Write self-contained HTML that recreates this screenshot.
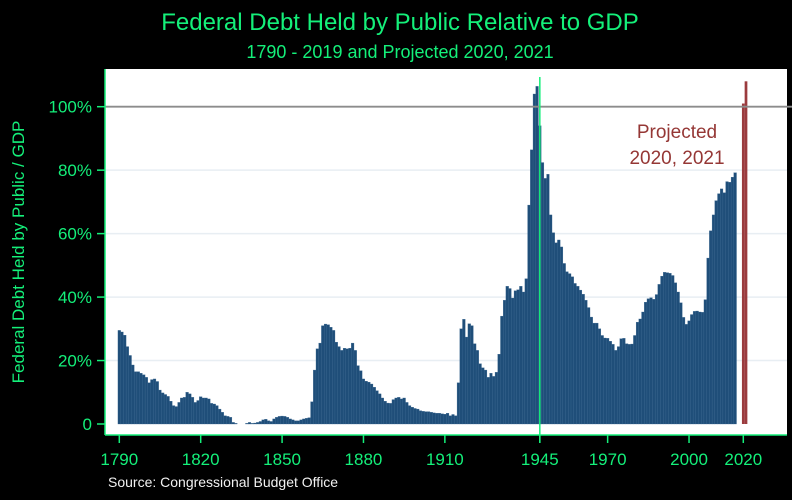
<!DOCTYPE html>
<html><head><meta charset="utf-8"><style>
body{margin:0;background:#000;width:792px;height:495px;overflow:hidden;font-family:"Liberation Sans",sans-serif}
</style></head><body>
<svg width="792" height="495" xmlns="http://www.w3.org/2000/svg">
<rect x="0" y="0" width="792" height="495" fill="#000"/>
<text x="400" y="30" fill="#14f07a" font-size="24" text-anchor="middle">Federal Debt Held by Public Relative to GDP</text>
<text x="400" y="58" fill="#14f07a" font-size="18" text-anchor="middle">1790 - 2019 and Projected 2020, 2021</text>
<rect x="105" y="69" width="682" height="366" fill="#fff"/>
<g id="grid"></g><g id="bars"></g><g id="axes"></g>
<text x="677" y="138" fill="#953735" font-size="19" text-anchor="middle">Projected</text>
<text x="677" y="164" fill="#953735" font-size="19" text-anchor="middle">2020, 2021</text>
<text transform="translate(24,252) rotate(-90)" fill="#14f07a" font-size="17" text-anchor="middle">Federal Debt Held by Public / GDP</text>
<text x="108" y="487" fill="#f2f2f2" font-size="14">Source: Congressional Budget Office</text>
</svg>
<script>
const startYear = 1790;
const debtPct = [
29.5,29,28,24.4,21.6,18.6,16.5,16.5,16,15.5,14.7,13,14,14.2,13.4,10.7,9.8,9.3,8.7,7.2,
5.8,5.5,6.8,8.2,8.4,10,9.5,8.4,6.8,7.4,8.6,8.2,8.2,7.9,6.5,6.3,5.8,4.7,3.7,2.6,
2.4,2.1,0.5,0.2,0,0,0,0.2,0.5,0.2,0.3,0.5,0.8,1.3,1.5,1,0.8,1.6,2.1,2.4,
2.5,2.4,2.1,1.6,1.3,1,1,1.3,1.6,1.8,2,7,17,23.7,25.5,31,31.5,31.3,30.5,29.5,
25.8,24.4,23.2,23.9,23.7,23.9,25.5,23.2,18.4,16.8,14.2,13.5,13.2,12.6,11.6,10.5,9.5,8.2,7.2,6.6,
6.5,7.7,8.2,8.4,7.9,8.2,6.8,5.8,5.3,4.9,4.7,4.2,4,3.9,3.9,3.7,3.5,3.4,3.4,3.2,
3.1,3.4,2.6,3,2.6,13,30,33,27.4,31.6,31,25.3,23.2,19,17.7,17,14.7,16,15,16.3,
22,34,39,43.4,42.7,39.7,42,42.3,43.4,41.6,45.8,69,86.4,104,106.4,94,82.4,77.4,78.7,65.9,
60.3,57.1,58,55.8,50.6,48,47.4,46.4,44.3,43.4,42.2,40.9,39,36.7,33.7,31.8,31.8,30,27.9,27.1,
27,26.1,25.1,23.2,24.4,26.9,27,25.3,25.1,25.2,27.9,32.1,33.1,35.3,38.4,39.5,39.8,39.3,40.8,44,
46.6,47.8,47.7,47.5,46.8,44.5,41.6,38.2,33.6,31.4,32.5,34.5,35.5,35.6,35.3,35.2,39.2,52.3,60.9,65.9,
70.4,72.6,74.1,72.9,76.4,76.2,77.8,79.2];
const projYears = [2020, 2021];
const projPct = [101, 108];
const yTicks = [0,20,40,60,80,100];
const yTickLabels = ["0","20%","40%","60%","80%","100%"];
const xTicks = [1790,1820,1850,1880,1910,1945,1970,2000,2020];
const refYear = 1945;

const NS="http://www.w3.org/2000/svg";
const xs = yr => 119.3 + (yr-1790)*2.713;
const ys = v => 424 - v*3.173;
const bw = 2.713;
function mk(tag, attrs, parent){const e=document.createElementNS(NS,tag);for(const k in attrs)e.setAttribute(k,attrs[k]);parent.appendChild(e);return e;}
const grid=document.getElementById('grid'), bars=document.getElementById('bars'), axes=document.getElementById('axes');
yTicks.forEach((t,i)=>{
  if(t>0&&t<100){const l=mk('line',{x1:105,x2:787,y1:ys(t),y2:ys(t),stroke:'#e8eef3','stroke-width':1.5},grid);
    
    }
  const tk=mk('line',{x1:97,x2:105,y1:ys(t),y2:ys(t),stroke:'#14f07a','stroke-width':1.5},axes);
  
  
  const tx=mk('text',{x:92,y:ys(t)+6,fill:'#14f07a','font-size':17,'text-anchor':'end'},axes);
  tx.textContent=yTickLabels[i];
  
  
});
debtPct.forEach((v,i)=>{
  const yr=startYear+i;
  const r=mk('rect',{x:xs(yr)-bw/2,y:ys(v),width:bw,height:Math.max(0,ys(0)-ys(v)),fill:'#1f4e79',stroke:'#3a6790','stroke-width':0.3},bars);
  
  
});
projYears.forEach((yr,i)=>{
  const r=mk('rect',{x:xs(yr)-bw/2,y:ys(projPct[i]),width:bw,height:ys(0)-ys(projPct[i]),fill:'#9b3b3e'},bars);
  
  
});
const hl=mk('line',{x1:105,x2:792,y1:ys(100),y2:ys(100),stroke:'#8c8c8c','stroke-width':1.8},axes);


const vl=mk('line',{x1:xs(refYear),x2:xs(refYear),y1:77,y2:443,stroke:'#14f07a','stroke-width':1.5},axes);


const ax1=mk('line',{x1:105,x2:105,y1:69,y2:435,stroke:'#14f07a','stroke-width':1.5},axes);


const ax2=mk('line',{x1:105,x2:787,y1:435,y2:435,stroke:'#14f07a','stroke-width':1.5},axes);


xTicks.forEach(yr=>{
  const tk=mk('line',{x1:xs(yr),x2:xs(yr),y1:435,y2:443,stroke:'#14f07a','stroke-width':1.5},axes);
  
  
  const tx=mk('text',{x:xs(yr),y:465,fill:'#14f07a','font-size':17,'text-anchor':'middle'},axes);
  tx.textContent=yr;
  
  
});
</script>
</body></html>
